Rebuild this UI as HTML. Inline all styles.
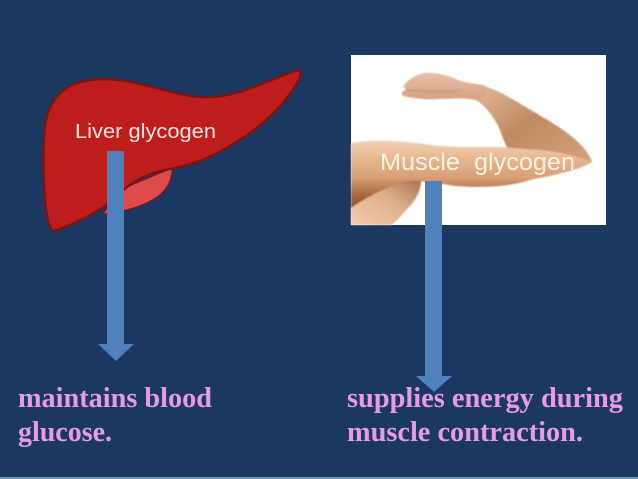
<!DOCTYPE html>
<html>
<head>
<meta charset="utf-8">
<style>
html,body{margin:0;padding:0;background:#1b3861;}
svg{display:block;}
</style>
</head>
<body>
<svg width="638" height="479" viewBox="0 0 638 479" xmlns="http://www.w3.org/2000/svg">
<defs>
<linearGradient id="up" x1="0" y1="0" x2="0" y2="1">
<stop offset="0" stop-color="#f0d2b8"/>
<stop offset="0.2" stop-color="#e9bd98"/>
<stop offset="0.55" stop-color="#d89e74"/>
<stop offset="0.8" stop-color="#a9693f"/>
<stop offset="1" stop-color="#8a5029"/>
</linearGradient>
<linearGradient id="low" x1="1" y1="0" x2="0" y2="1">
<stop offset="0" stop-color="#a06a45"/>
<stop offset="0.45" stop-color="#dfb08a"/>
<stop offset="1" stop-color="#f0cdae"/>
</linearGradient>
<linearGradient id="fore" x1="0" y1="0" x2="1" y2="1">
<stop offset="0" stop-color="#e6bc9a"/>
<stop offset="0.45" stop-color="#c08a62"/>
<stop offset="1" stop-color="#d8a47c"/>
</linearGradient>
<linearGradient id="fist" x1="0" y1="0" x2="0" y2="1">
<stop offset="0" stop-color="#e9c0a6"/>
<stop offset="1" stop-color="#d69f82"/>
</linearGradient>
<filter id="b"><feGaussianBlur stdDeviation="0.8"/></filter>
</defs>
<rect width="638" height="479" fill="#1b3861"/>
<rect x="0" y="477" width="638" height="2" fill="#6d9ab5"/>

<!-- Gallbladder -->
<path d="M172,168 C172,180 167,190 157,197 C142,207 122,212 103,214 L120,190 Z" fill="#df4a4c" stroke="#8a1512" stroke-width="1"/>
<!-- Liver -->
<path d="M300,71 C302,76 297,84 291,92 C279,110 262,125 241,139 C222,151 203,163 170,169 C152,172 137,179 127,187 C115,197 104,208 92,214 C78,222 62,229 53,231 C47,226 45,205 44,185 C43,165 43,145 45,125 C48,105 58,92 72,85 C88,78 108,78 125,81 C145,84 165,91 185,95 C205,99 222,97 240,92 C258,86 280,76 298,70 Z" fill="#be1e1b" stroke="#7e1412" stroke-width="2.4" stroke-linejoin="round"/>

<!-- Muscle picture -->
<rect x="351" y="55" width="255" height="170" fill="#ffffff"/>
<g filter="url(#b)">
<!-- lower arm under bicep -->
<path d="M351,192 L421,176 C422,190 416,200 408,208 C402,215 397,221 391,225 L351,225 Z" fill="url(#low)"/>
<!-- forearm -->
<path d="M476,84 C492,87 506,95 524,106 C544,118 566,130 578,142 C586,150 591,157 592,162 C585,166 570,170 555,172 L510,152 C503,142 501,130 496,122 C490,112 484,105 476,100 C470,94 470,88 476,84 Z" fill="url(#fore)"/>
<!-- upper arm -->
<path d="M351,143 C375,139 400,141 425,144 C450,148 480,147 503,147 C525,150 560,148 592,162 C580,170 555,175 530,180 C510,187 480,188 455,186 C435,183 420,180 405,181 C390,186 370,195 351,208 Z" fill="url(#up)"/>
<!-- fist -->
<path d="M403,87 C407,80 415,75 424,73 C435,72 448,75 458,80 C466,83 476,84 484,85 C490,92 484,100 476,100 C462,97 450,99 437,99 C425,100 412,98 403,96 C400,93 402,91 407,90 Z" fill="url(#fist)"/>
<path d="M405,90 C420,91 440,92 458,91" fill="none" stroke="#bd8468" stroke-width="0.8"/>
</g>

<!-- Labels -->
<text x="75" y="138" font-family="'Liberation Sans',sans-serif" font-size="20.5" fill="#f6e4de" textLength="141" lengthAdjust="spacingAndGlyphs">Liver glycogen</text>
<text x="380" y="170" font-family="'Liberation Sans',sans-serif" font-size="24.5" fill="#fdf3e0" textLength="195" lengthAdjust="spacingAndGlyphs" xml:space="preserve">Muscle  glycogen</text>

<!-- Arrows -->
<polygon points="107,151 124,151 124,344 134,344 116,361 98,344 107,344" fill="#4f81bd"/>
<polygon points="425,181 442,181 442,376 452,376 434,392 416,376 425,376" fill="#4f81bd"/>

<!-- Bottom text -->
<g font-family="'Liberation Serif',serif" font-weight="bold" font-size="29" fill="#e79be6">
<text x="18" y="407" textLength="194" lengthAdjust="spacingAndGlyphs">maintains blood</text>
<text x="18" y="441" textLength="94" lengthAdjust="spacingAndGlyphs">glucose.</text>
<text x="347" y="407" textLength="276" lengthAdjust="spacingAndGlyphs">supplies energy during</text>
<text x="347" y="441" textLength="236" lengthAdjust="spacingAndGlyphs">muscle contraction.</text>
</g>
</svg>
</body>
</html>
